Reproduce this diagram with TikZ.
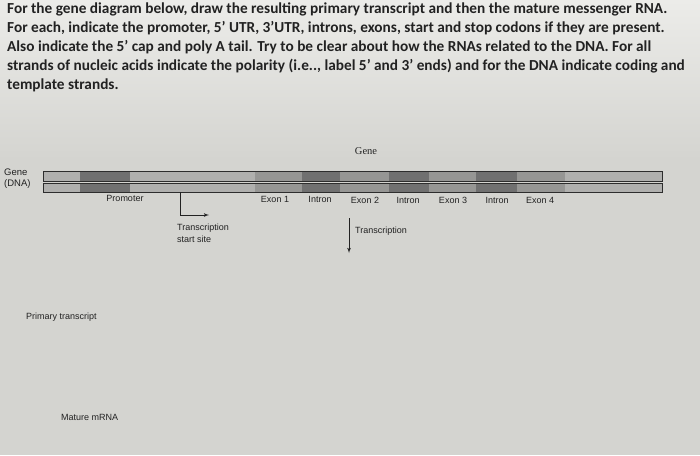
\documentclass[tikz,border=0pt]{standalone}
\usepackage{fontspec}
\setmainfont{Liberation Sans}
\newfontfamily\askfont{Carlito}
\newfontfamily\genefont{Liberation Serif}
\usepackage{tikz}
\usetikzlibrary{arrows,positioning}
\definecolor{paper}{RGB}{212,212,208}
\definecolor{paperhi}{RGB}{236,236,233}
\definecolor{seglight}{RGB}{176,176,174}
\definecolor{segmid}{RGB}{150,150,148}
\definecolor{segdark}{RGB}{112,112,112}
\definecolor{ink}{RGB}{34,34,34}
\tikzstyle{lbl} = [font=\fontsize{9}{12}\selectfont, text=ink, inner sep=0pt]
\tikzstyle{line} = [draw, ink, thick, -latex']
\tikzstyle{strand} = [draw=gray!35!black, semithick]

\begin{document}
\begin{tikzpicture}[x=1pt, y=-1pt]
\useasboundingbox (0,0) rectangle (700,455);
\shade[top color=paperhi, bottom color=paper] (0,0) rectangle (700,160);
\fill[paper] (0,160) rectangle (700,455);

% question text
\node[anchor=north west, inner sep=0pt, align=left, text=ink,
      font=\askfont\bfseries\fontsize{15.3}{19}\selectfont] (question) at (7,3)
  {For the gene diagram below, draw the resulting primary transcript and then the mature messenger RNA.\\
   For each, indicate the promoter, 5’ UTR, 3’UTR, introns, exons, start and stop codons if they are present.\\
   Also indicate the 5’ cap and poly A tail. Try to be clear about how the RNAs related to the DNA. For all\\
   strands of nucleic acids indicate the polarity (i.e.., label 5’ and 3’ ends) and for the DNA indicate coding and\\
   template strands.};

% the two DNA strands
\foreach \xa/\xb/\c in {43/80/seglight, 80/130/segdark, 130/255/seglight, 255/302/segmid,
                        302/340/segdark, 340/389/segmid, 389/429/segdark, 429/476/segmid,
                        476/517/segdark, 517/565/segmid, 565/662/seglight} {
  \fill[\c] (\xa,171) rectangle (\xb,181);
  \fill[\c] (\xa,183) rectangle (\xb,192);
}
\draw[strand] (43,171) rectangle (662,181);
\draw[strand] (43,183) rectangle (662,192);

\node[font=\genefont\fontsize{10.5}{12}\selectfont, text=ink, inner sep=0pt] (gene) at (366,151) {Gene};
\node[lbl, font=\fontsize{9.5}{11}\selectfont, align=left, anchor=west] (dna) at (4,179) {Gene\\(DNA)};

% region labels
\node[lbl] (promoter) at (125,198) {Promoter};
\node[lbl] (exon1) at (275,199) {Exon 1};
\node[lbl] (intron1) at (320,199) {Intron};
\node[lbl] (exon2) at (365,200) {Exon 2};
\node[lbl] (intron2) at (408,200) {Intron};
\node[lbl] (exon3) at (453,200) {Exon 3};
\node[lbl] (intron3) at (497,200) {Intron};
\node[lbl] (exon4) at (540,200) {Exon 4};

% transcription start site
\coordinate (tss) at (180,192);
\coordinate (tssbend) at (180,215);
\coordinate (tssend) at (209,215);
\path [line] (tss) -- (tssbend) -- (tssend);
\node[lbl, align=left, anchor=north west] (tsslabel) at (177,224) {Transcription\\start site};

% transcription
\coordinate (txtop) at (349,218);
\coordinate (txbot) at (349,253);
\path [line] (txtop) -- (txbot);
\node[lbl, anchor=west] (txlabel) at (355,231) {Transcription};

\node[lbl, anchor=west] (primary) at (26,317) {Primary transcript};
\node[lbl, anchor=west] (mature) at (61,417) {Mature mRNA};

\end{tikzpicture}
\end{document}
